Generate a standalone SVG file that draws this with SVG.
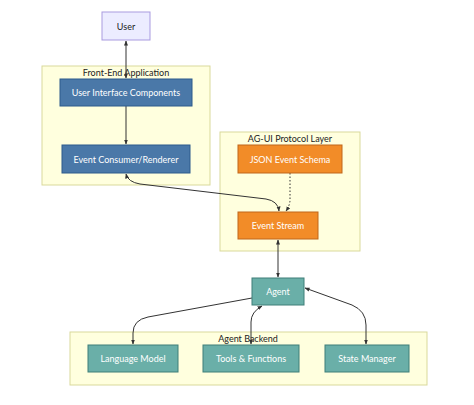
<svg xmlns="http://www.w3.org/2000/svg" width="474" height="405" viewBox="0 0 474 405">
<style>
text{font-family:Lato,"Liberation Sans",sans-serif;font-size:9px;text-anchor:middle;dominant-baseline:central}
.cl{fill:#ffffde;stroke:#d9d99b;stroke-width:1}
.cl-t{fill:#222}
.blue{fill:#4a78a8;stroke:#2d5b8c;stroke-width:1}
.orange{fill:#f28c28;stroke:#c0661a;stroke-width:1}
.teal{fill:#6aafa8;stroke:#3f7f79;stroke-width:1}
.user{fill:#ececff;stroke:#a99be0;stroke-width:1}
.lt{fill:#ffffff}
.dk{fill:#222}
.e{fill:none;stroke:#333;stroke-width:1}
.dot{stroke-dasharray:1.5 2}
</style>
<defs>
<marker id="ah" viewBox="0 0 10 10" refX="9" refY="5" markerWidth="5" markerHeight="5" orient="auto-start-reverse"><path d="M0,1 L10,5 L0,9 z" fill="#333"/></marker>
</defs>
<g id="cluster-frontend"><rect class="cl" x="42" y="66" width="168" height="119"/><text class="cl-t" x="126" y="72">Front-End Application</text></g>
<g id="cluster-agui"><rect class="cl" x="220" y="132" width="140" height="119"/><text class="cl-t" x="290" y="138">AG-UI Protocol Layer</text></g>
<g id="cluster-backend"><rect class="cl" x="70" y="332" width="357" height="53"/><text class="cl-t" x="248" y="338">Agent Backend</text></g>
<g id="edges">
<path class="e" d="M126,41 L126,78" marker-start="url(#ah)" marker-end="url(#ah)"/>
<path class="e" d="M126,106 L126,144" marker-end="url(#ah)"/>
<path class="e" d="M126,174 Q128,182 140,184 L266,199 Q278,201 279,211" marker-start="url(#ah)" marker-end="url(#ah)"/>
<path class="e dot" d="M290,173 L290,200 Q290,205 286,211" marker-end="url(#ah)"/>
<path class="e" d="M278,240 L278,277" marker-start="url(#ah)" marker-end="url(#ah)"/>
<path class="e" d="M252,298 L148,317 Q133,320 133,333 L133,344" marker-end="url(#ah)"/>
<path class="e" d="M251,344 L251,322 Q251,312 262,306" marker-start="url(#ah)" marker-end="url(#ah)"/>
<path class="e" d="M305,288 L352,305 Q366,311 366,325 L366,344" marker-start="url(#ah)" marker-end="url(#ah)"/>
</g>
<g id="user"><rect class="user" x="102" y="12" width="48" height="28"/><text class="dk" x="126" y="26">User</text></g>
<g id="ui-components"><rect class="blue" x="60" y="79" width="132" height="27"/><text class="lt" x="126" y="92.5">User Interface Components</text></g>
<g id="event-consumer"><rect class="blue" x="62" y="145" width="128" height="28"/><text class="lt" x="126" y="159">Event Consumer/Renderer</text></g>
<g id="json-schema"><rect class="orange" x="238" y="145" width="104" height="28"/><text class="lt" x="290" y="159">JSON Event Schema</text></g>
<g id="event-stream"><rect class="orange" x="238" y="212" width="80" height="27"/><text class="lt" x="278" y="225.5">Event Stream</text></g>
<g id="agent"><rect class="teal" x="252" y="278" width="52" height="27"/><text class="lt" x="278" y="291.5">Agent</text></g>
<g id="language-model"><rect class="teal" x="88" y="345" width="90" height="27"/><text class="lt" x="133" y="358.5">Language Model</text></g>
<g id="tools"><rect class="teal" x="203" y="345" width="96" height="27"/><text class="lt" x="251" y="358.5">Tools &amp; Functions</text></g>
<g id="state-manager"><rect class="teal" x="325" y="345" width="84" height="27"/><text class="lt" x="367" y="358.5">State Manager</text></g>
</svg>
